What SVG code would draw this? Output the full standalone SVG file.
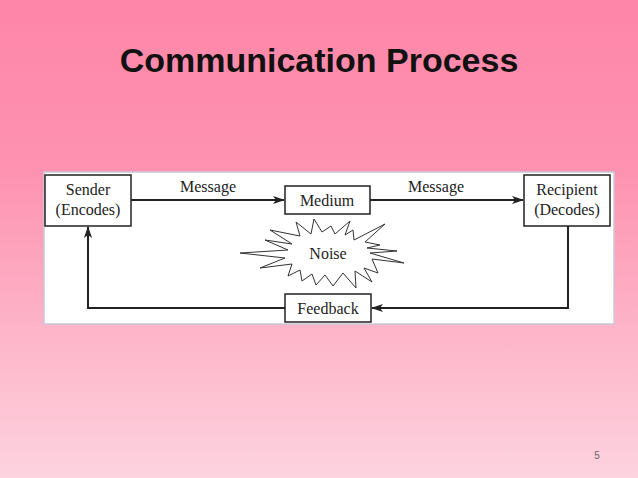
<svg xmlns="http://www.w3.org/2000/svg" width="638" height="478" viewBox="0 0 638 478">
<defs>
<linearGradient id="bg" x1="0" y1="0" x2="0" y2="1">
<stop offset="0" stop-color="#fe86a8"/><stop offset="0.35" stop-color="#fe92b0"/><stop offset="1" stop-color="#fdd3df"/>
</linearGradient>
<marker id="ah" markerWidth="12" markerHeight="8" refX="11" refY="4" orient="auto" markerUnits="userSpaceOnUse">
<path d="M0,0 L12,4 L0,8 L3,4 Z" fill="#222"/>
</marker>
<style>
.box{fill:#fff;stroke:#222;stroke-width:1.5}
.t{font-family:"Liberation Serif",serif;font-size:16px;fill:#222;text-anchor:middle}
.ln{fill:none;stroke:#222;stroke-width:2}
</style>
</defs>
<rect width="638" height="478" fill="url(#bg)"/>
<text x="319" y="72" font-family="Liberation Sans,Arial,sans-serif" font-size="34" font-weight="bold" text-anchor="middle" fill="#111">Communication Process</text>
<rect x="44" y="172" width="570" height="152" fill="#fff" stroke="#c8c8d8" stroke-width="1.5"/>
<g id="connectors">
<line class="ln" x1="131" y1="200" x2="284" y2="200" marker-end="url(#ah)"/>
<line class="ln" x1="370" y1="200" x2="523" y2="200" marker-end="url(#ah)"/>
<polyline class="ln" points="568,226 568,308 372,308" marker-end="url(#ah)"/>
<polyline class="ln" points="285,308 88,308 88,227" marker-end="url(#ah)"/>
</g>
<text class="t" x="208" y="192">Message</text>
<text class="t" x="436" y="192">Message</text>
<g id="sender"><rect class="box" x="45" y="175" width="86" height="51"/><text class="t" x="88" y="195">Sender</text><text class="t" x="88" y="215">(Encodes)</text></g>
<g id="medium"><rect class="box" x="285" y="186" width="85" height="28"/><text class="t" x="327" y="206">Medium</text></g>
<g id="recipient"><rect class="box" x="524" y="175" width="86" height="51"/><text class="t" x="567" y="195">Recipient</text><text class="t" x="567" y="215">(Decodes)</text></g>
<g id="feedback"><rect class="box" x="285" y="294" width="86" height="28"/><text class="t" x="328" y="314">Feedback</text></g>
<g id="noise">
<polygon fill="#fff" stroke="#333" stroke-width="1" points="300,236 296,222 311,234 314,219 322,232 331,226 335,234 350,221 345,235 353,230 354,240 385,224 365,242 380,245 367,248 397,251 370,253 404,263 372,259 378,273 364,268 372,282 355,271 356,288 343,273 333,286 325,275 316,285 312,274 302,281 300,270 288,276 292,264 260,268 285,258 240,253 288,250 265,240 292,244 270,230"/>
<text class="t" x="328" y="259">Noise</text>
</g>
<text x="597" y="459" font-family="Liberation Sans,sans-serif" font-size="10" fill="#666" text-anchor="middle">5</text>
</svg>
